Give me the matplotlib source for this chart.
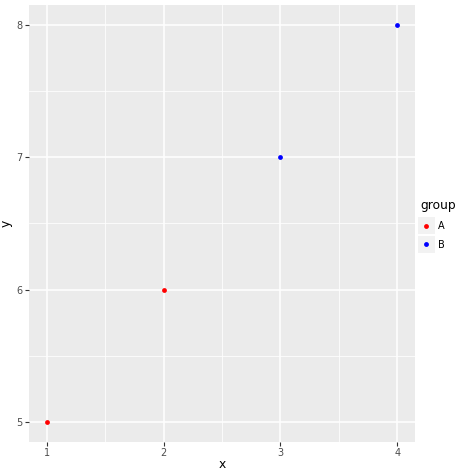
import matplotlib
matplotlib.use("Agg")
import matplotlib.pyplot as plt
from matplotlib.lines import Line2D
from matplotlib.patches import Rectangle

# data
x = [1, 2, 3, 4]
y = [5, 6, 7, 8]
group = ["A", "A", "B", "B"]
group_names = ["A", "B"]
group_colors = {"A": "red", "B": "blue"}

fig = plt.figure(figsize=(4.74, 4.74), dpi=100)
ax = fig.add_axes([0.0612, 0.068, 0.8143, 0.921])
ax.set_facecolor("#EBEBEB")

for g in group_names:
    xs = [xi for xi, gi in zip(x, group) if gi == g]
    ys = [yi for yi, gi in zip(y, group) if gi == g]
    ax.scatter(xs, ys, s=12, color=group_colors[g], zorder=3, linewidths=0)

ax.set_xlim(0.85, 4.15)
ax.set_ylim(4.85, 8.15)
ax.set_xticks([1, 2, 3, 4])
ax.set_yticks([5, 6, 7, 8])
ax.set_xticks([1.5, 2.5, 3.5], minor=True)
ax.set_yticks([5.5, 6.5, 7.5], minor=True)
ax.grid(which="major", color="white", linewidth=1.1, zorder=0)
ax.grid(which="minor", color="white", linewidth=0.55, zorder=0)
ax.set_axisbelow(True)
for sp in ax.spines.values():
    sp.set_visible(False)
ax.tick_params(which="major", length=2.7, width=0.8, color="#333333",
               labelsize=7, labelcolor="#4D4D4D", pad=2)
ax.tick_params(which="minor", length=0)
ax.set_xlabel("x", fontsize=8.8)
ax.set_ylabel("y", fontsize=8.8)
ax.xaxis.set_label_coords(0.5, -0.037)
ax.yaxis.set_label_coords(-0.043, 0.5)

handles = [Line2D([], [], marker="o", linestyle="", markersize=3.5,
                  markerfacecolor=group_colors[g], markeredgewidth=0)
           for g in group_names]
leg = fig.legend(handles, group_names, title="group", loc="upper left",
                 bbox_to_anchor=(0.868, 0.598), frameon=False, fontsize=7,
                 title_fontsize=8.8, handlelength=1.2, handletextpad=0.6,
                 labelspacing=0.9)
leg._legend_box.align = "left"

# grey key backgrounds like ggplot
fig.canvas.draw()
for h in leg.legend_handles:
    bb = h.get_window_extent(fig.canvas.get_renderer())
    cx, cy = (bb.x0 + bb.x1) / 2, (bb.y0 + bb.y1) / 2
    fig.patches.append(Rectangle((cx - 8.5, cy - 8.5), 17, 17, transform=None,
                                 facecolor="#F2F2F2", edgecolor="none",
                                 zorder=0, figure=fig))

fig.savefig("out.png", dpi=100)
